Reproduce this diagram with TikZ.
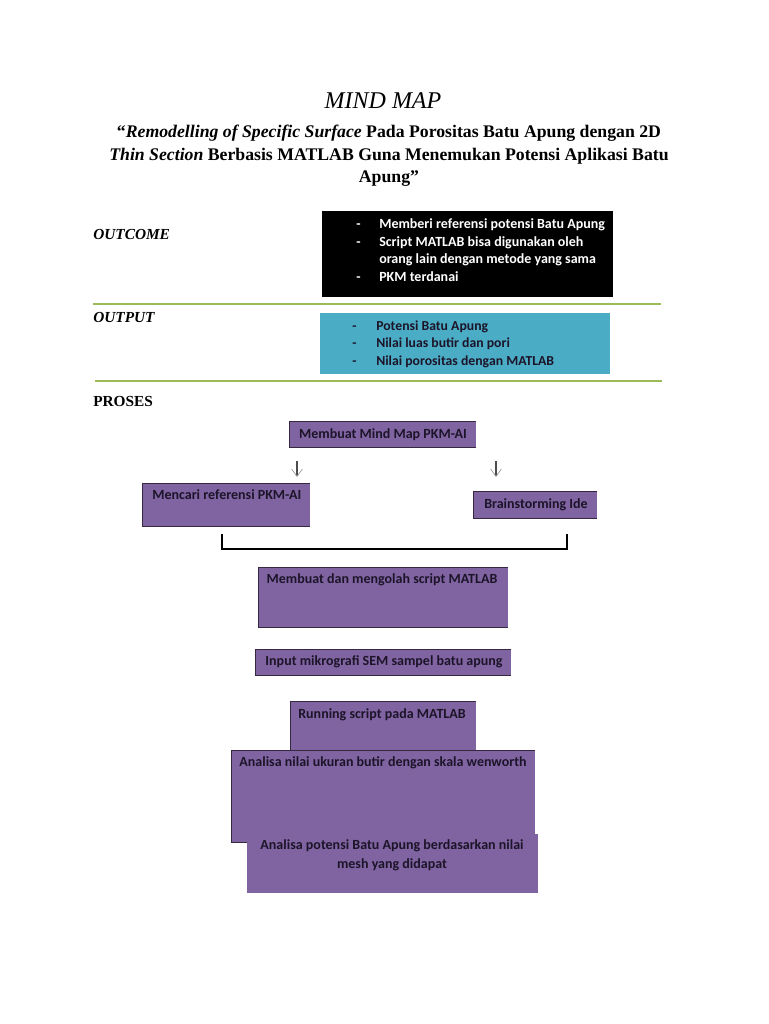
\documentclass[tikz,border=0pt]{standalone}
\usepackage{fontspec}
\setmainfont{Liberation Serif}
\newfontfamily\boxfont{Carlito}
\usetikzlibrary{arrows.meta,fit}
\definecolor{purp}{HTML}{8064A2}
\definecolor{purpedge}{HTML}{35283F}
\definecolor{cyanbox}{HTML}{4BACC6}
\definecolor{greenline}{HTML}{9BBB59}
\definecolor{ptext}{HTML}{1C1428}
\newcommand\pedge[1]{\draw[pedgeline] (#1.north east) -- (#1.north west) -- (#1.south west) -- (#1.south east);}
\begin{document}
\begin{tikzpicture}[x=0.75pt,y=-0.75pt,
  pbox/.style={fill=purp, draw=none, inner sep=0pt},
  pedgeline/.style={draw=purpedge, line width=1pt},
  ptxt/.style={font=\boxfont\bfseries\fontsize{10.5}{13.5}\selectfont, text=ptext, inner sep=0pt, align=center},
  wtxt/.style={font=\boxfont\bfseries\fontsize{10.5}{13}\selectfont, text=white, inner sep=0pt, anchor=base west},
  ctxt/.style={font=\boxfont\bfseries\fontsize{10.3}{13}\selectfont, text=ptext, inner sep=0pt, anchor=base west},
  label/.style={font=\fontsize{11.5}{14}\selectfont\bfseries, anchor=west, inner sep=0pt},
  greenrule/.style={draw=greenline, line width=1.5pt},
  tinyarrow/.style={draw=black!70, line width=0.8pt, -{Straight Barb[length=5.5pt,width=8pt,line width=0.5pt,color=black!40]}},
  bracket/.style={draw=black, line width=0.9pt}
]
\useasboundingbox[fill=white] (0,0) rectangle (768,1024);

% title
\node[font=\fontsize{18}{22}\selectfont\itshape] (title) at (383,101) {MIND MAP};
\node[font=\fontsize{13.3}{16.8}\selectfont\bfseries, align=center] (sub) at (389,156)
  {“\textit{Remodelling of Specific Surface} Pada Porositas Batu Apung dengan 2D\\
   \textit{Thin Section} Berbasis MATLAB Guna Menemukan Potensi Aplikasi Batu\\
   Apung”};

% OUTCOME
\node[label, font=\fontsize{11.5}{14}\selectfont\bfseries\itshape] (outcome) at (93,234) {OUTCOME};
\node[fill=black, inner sep=0pt, fit={(322,211) (613,297)}] (obox) {};
\node[wtxt] (od1) at (356,228.5) {-};
\node[wtxt] (o1) at (379,228.5) {Memberi referensi potensi Batu Apung};
\node[wtxt] (od2) at (356,246.5) {-};
\node[wtxt] (o2) at (379,246.5) {Script MATLAB bisa digunakan oleh};
\node[wtxt] (o3) at (379,263.5) {orang lain dengan metode yang sama};
\node[wtxt] (od3) at (356,281.5) {-};
\node[wtxt] (o4) at (379,281.5) {PKM terdanai};

\coordinate (g1a) at (93,304);
\coordinate (g1b) at (661,304);
\draw[greenrule] (g1a) -- (g1b);

% OUTPUT
\node[label, font=\fontsize{11.5}{14}\selectfont\bfseries\itshape] (output) at (93,317) {OUTPUT};
\node[fill=cyanbox, inner sep=0pt, fit={(320,313) (610,374)}] (cbox) {};
\node[ctxt] (cd1) at (352,330.5) {-};
\node[ctxt] (c1) at (376,330.5) {Potensi Batu Apung};
\node[ctxt] (cd2) at (352,347.5) {-};
\node[ctxt] (c2) at (376,347.5) {Nilai luas butir dan pori};
\node[ctxt] (cd3) at (352,365.5) {-};
\node[ctxt] (c3) at (376,365.5) {Nilai porositas dengan MATLAB};

\coordinate (g2a) at (95,381);
\coordinate (g2b) at (662,381);
\draw[greenrule] (g2a) -- (g2b);

% PROSES
\node[label] (proses) at (93,401) {PROSES};

\node[pbox, fit={(290,422) (476,447)}] (b1) {};
\pedge{b1}
\node[ptxt] (t1) at (383,435) {Membuat Mind Map PKM-AI};

\coordinate (a1s) at (297,461);
\coordinate (a1e) at (297,477);
\draw[tinyarrow] (a1s) -- (a1e);
\coordinate (a2s) at (496,461);
\coordinate (a2e) at (496,477);
\draw[tinyarrow] (a2s) -- (a2e);

\node[pbox, fit={(143,484) (310,526)}] (b2) {};
\pedge{b2}
\node[ptxt, anchor=west] (t2) at (152,495) {Mencari referensi PKM-AI};

\node[pbox, fit={(474,492) (597,518)}] (b3) {};
\pedge{b3}
\node[ptxt] (t3) at (536,505) {Brainstorming Ide};

\coordinate (k1) at (222,534);
\coordinate (k2) at (222,549);
\coordinate (k3) at (567,549);
\coordinate (k4) at (567,534);
\draw[bracket] (k1) -- (k2) -- (k3) -- (k4);

\node[pbox, fit={(259,568) (508,627)}] (b4) {};
\pedge{b4}
\node[ptxt] (t4) at (382,580) {Membuat dan mengolah script MATLAB};

\node[pbox, fit={(256,650) (511,675)}] (b5) {};
\pedge{b5}
\node[ptxt] (t5) at (384,662) {Input mikrografi SEM sampel batu apung};

\node[pbox, fit={(291,702) (476,752)}] (b6) {};
\pedge{b6}
\node[ptxt] (t6) at (382,715) {Running script pada MATLAB};

\node[pbox, fit={(232,751) (535,842)}] (b7) {};
\pedge{b7}
\node[ptxt] (t7) at (383,763) {Analisa nilai ukuran butir dengan skala wenworth};

\node[pbox, fit={(247,834) (538,893)}] (b8) {};
\node[ptxt, font=\boxfont\bfseries\fontsize{10.5}{14}\selectfont] (t8) at (392,855) {Analisa potensi Batu Apung berdasarkan nilai\\mesh yang didapat};

\end{tikzpicture}
\end{document}
